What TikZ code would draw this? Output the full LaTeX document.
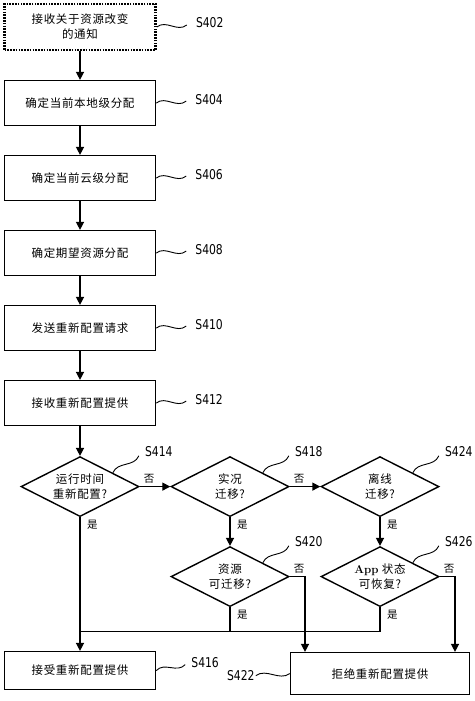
\documentclass[tikz,border=0pt]{standalone}
\usepackage{fontspec}
\usetikzlibrary{calc, arrows.meta, shapes.geometric, positioning}
\newfontfamily\cjkfont[LetterSpace=6]{Noto Sans CJK SC}
\newfontfamily\tagfont[FakeStretch=0.8]{DejaVu Sans}
\tikzset{
  procbox/.style={
    rectangle, draw, line width=1.4pt, minimum width=151pt,
    minimum height=45pt, align=center,
    font=\cjkfont\fontsize{11.5}{15}\selectfont
  },
  startbox/.style={procbox, line width=2.6pt, dash pattern=on 1.6pt off 1.2pt,
    minimum height=46pt},
  decide/.style={
    diamond, aspect=2, draw, line width=1.4pt, minimum width=118pt,
    minimum height=60pt, inner sep=0pt, align=center,
    font=\cjkfont\fontsize{11.5}{15}\selectfont
  },
  flow/.style={-{Triangle[length=8pt, width=8pt]}, line width=1.4pt},
  link/.style={line width=1.4pt},
  tag/.style={font=\tagfont\fontsize{13.5}{16}\selectfont, inner sep=1pt},
  yn/.style={font=\cjkfont\fontsize{10.5}{12}\selectfont, inner sep=1pt},
  wave/.style={line width=0.9pt, to path={
    .. controls ($(\tikztostart)!0.33!(\tikztotarget)!7pt!90:(\tikztotarget)$)
    and ($(\tikztostart)!0.67!(\tikztotarget)!7pt!-90:(\tikztotarget)$)
    .. (\tikztotarget)}},
}
\begin{document}
\begin{tikzpicture}[x=1pt, y=-1pt]
  \useasboundingbox (0,0) rectangle (474,701);

  % --- main column ---
  \node[startbox] (box402) at (80,27) {接收关于资源改变\\的通知};
  \node[procbox, below=28.6pt of box402] (box404) {确定当前本地级分配};
  \node[procbox, below=28.6pt of box404] (box406) {确定当前云级分配};
  \node[procbox, below=28.6pt of box406] (box408) {确定期望资源分配};
  \node[procbox, below=28.6pt of box408] (box410) {发送重新配置请求};
  \node[procbox, below=28.6pt of box410] (box412) {接收重新配置提供};

  % --- decisions ---
  \node[decide, below=29.6pt of box412] (d414) {运行时间\\重新配置?};
  \node[decide, right=30.6pt of d414] (d418) {实况\\迁移?};
  \node[decide, right=30.6pt of d418] (d424) {离线\\迁移?};
  \node[decide, below=28.6pt of d418] (d420) {资源\\可迁移?};
  \node[decide, below=28.6pt of d424] (d426) {{\rmfamily\bfseries App} 状态\\可恢复?};

  % --- results ---
  \node[procbox, minimum height=38pt, below=133.6pt of d414] (box416) {接受重新配置提供};
  \node[procbox, minimum width=179pt, minimum height=42pt, below=44.6pt of d426]
    (box422) {拒绝重新配置提供};

  % --- flow ---
  \foreach \a/\b in {box402/box404, box404/box406, box406/box408,
                     box408/box410, box410/box412, box412/d414}
    \draw[flow] (\a) -- (\b);
  \draw[flow] (d414) -- (d418);
  \draw[flow] (d418) -- (d424);
  \draw[flow] (d418) -- (d420);
  \draw[flow] (d424) -- (d426);
  \draw[flow] (d414) -- (box416);

  \coordinate (in420) at ([xshift=-75pt]box422.north);
  \coordinate (in426) at ([xshift=75pt]box422.north);
  \draw[flow] (d420.east) -| (in420);
  \draw[flow] (d426.east) -| (in426);

  \coordinate (merge) at ([yshift=-24pt]d420.south);
  \draw[link] (d420.south) -- (merge);
  \draw[link] (d426.south) |- (d414 |- merge);

  % --- yes / no ---
  \foreach \d in {414,418,420,426}
    \node[yn, above right=2pt and 3pt of d\d.east] (no\d) {否};
  \foreach \d in {414,418,420,424,426}
    \node[yn, below right=2pt and 6pt of d\d.south] (yes\d) {是};

  % --- step tags ---
  \foreach \b in {402,404,406,408,410,412} {
    \node[tag, right=38pt of box\b, yshift=4pt] (t\b) {S\b};
    \coordinate (w\b) at ([xshift=-8pt, yshift=-2pt]t\b.west);
    \draw[wave] (box\b.east) to (w\b);
  }
  \node[tag, right=34pt of box416, yshift=8pt] (t416) {S416};
  \coordinate (w416) at ([xshift=-5pt, yshift=-2pt]t416.west);
  \draw[wave] (box416.east) to (w416);

  \foreach \d in {414,418,420,424,426} {
    \coordinate (k\d) at ($(d\d.north)!0.55!(d\d.east)$);
    \node[tag, anchor=west] (t\d) at ([shift={(31,-21)}]k\d) {S\d};
    \coordinate (w\d) at ([xshift=-5pt, yshift=-4pt]t\d.west);
    \draw[wave] (k\d) to (w\d);
  }

  \node[tag, left=34pt of box422, yshift=-2pt] (t422) {S422};
  \draw[wave] (t422.east) to (box422.west);

\end{tikzpicture}
\end{document}
